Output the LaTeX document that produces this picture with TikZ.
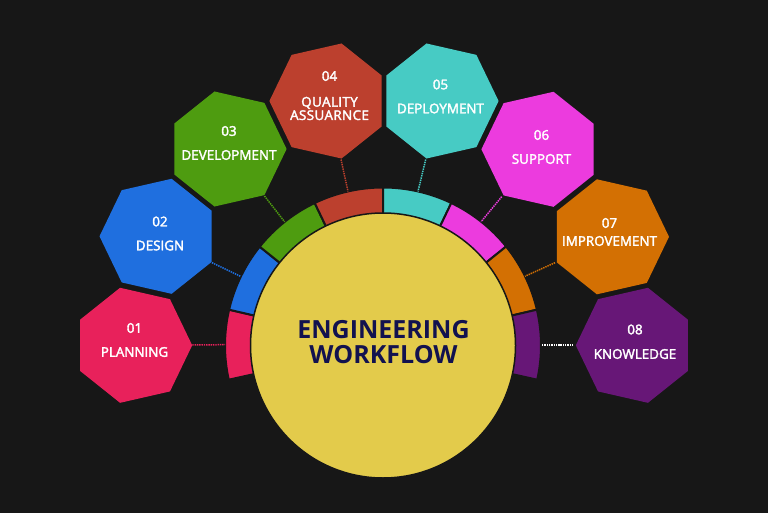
\documentclass[tikz,border=0pt]{standalone}
\usepackage{fontspec}
\setmainfont{Open Sans}
\newfontfamily\labfont[FakeBold=2.5]{Open Sans}
\usetikzlibrary{shapes.geometric}
\definecolor{bgdark}{HTML}{171717}
\definecolor{cpink}{HTML}{E8215B}
\definecolor{cblue}{HTML}{1F6FDF}
\definecolor{cgreen}{HTML}{4E9C10}
\definecolor{cred}{HTML}{BC402E}
\definecolor{cteal}{HTML}{47CBC4}
\definecolor{cmag}{HTML}{EC3BDE}
\definecolor{corange}{HTML}{D37003}
\definecolor{cpurple}{HTML}{671777}
\definecolor{cyellow}{HTML}{E3CB4B}
\definecolor{cnavy}{HTML}{12124F}
\tikzset{
  hepta/.style={regular polygon,regular polygon sides=7,minimum size=118pt,inner sep=0pt,outer sep=0pt,fill=#1,draw=none},
  hr/.style={hepta=#1,shape border rotate=-90},
  hl/.style={hepta=#1,shape border rotate=90},
  lab/.style={text=white,font=\labfont\fontsize{13.4}{13.4}\selectfont,align=center,inner sep=0pt},
  seg/.style={fill=#1,draw=bgdark,line width=2pt},
  link/.style={line width=1.5pt,dash pattern=on 1.4pt off 0.9pt,#1},
}
\newcommand{\segm}[3]{\draw[seg=#3] ({383+158*cos(#1)},{345.5-158*sin(#1)}) arc[start angle=-#1,end angle=-#2,radius=158] -- ({383+130*cos(#2)},{345.5-130*sin(#2)}) arc[start angle=-#2,end angle=-#1,radius=130] -- cycle;}
\begin{document}
\begin{tikzpicture}[x=1pt,y=-1pt]
\useasboundingbox[fill=bgdark] (0,0) rectangle (768,513);
\segm{192.5}{166.9}{cpink}
\segm{166.9}{141.3}{cblue}
\segm{141.3}{115.6}{cgreen}
\segm{115.6}{90}{cred}
\segm{90}{64.4}{cteal}
\segm{64.4}{38.8}{cmag}
\segm{38.8}{13.1}{corange}
\segm{13.1}{-12.5}{cpurple}
\node[circle,fill=cyellow,draw=bgdark,line width=1.5pt,minimum size=265pt,inner sep=0pt] (hub) at (383,345.5) {};
\node[align=center,text=cnavy,inner sep=0pt,font=\fontsize{25}{25}\selectfont\bfseries] (title) at (383.5,342.2) {ENGINEERING\\WORKFLOW};
\node[hr=cpink] (n1) at (133.2,345.3) {};
\node[hl=cblue] (n2) at (158.5,236.3) {};
\node[hr=cgreen] (n3) at (227.6,149) {};
\node[hl=cred] (n4) at (328.4,101) {};
\node[hr=cteal] (n5) at (439.6,101) {};
\node[hl=cmag] (n6) at (540.4,149.3) {};
\node[hr=corange] (n7) at (610,236.8) {};
\node[hl=cpurple] (n8) at (634.8,345.3) {};
\node[lab] (t1) at (134.5,328) {01};
\node[lab] (l1) at (134.5,352) {PLANNING};
\node[lab] (t2) at (160,221.5) {02};
\node[lab] (l2) at (160,245.5) {DESIGN};
\node[lab] (t3) at (229,131) {03};
\node[lab] (l3) at (229,155) {DEVELOPMENT};
\node[lab] (t4) at (329.5,76) {04};
\node[lab,font=\labfont\fontsize{13.4}{13.4}\selectfont\addfontfeature{LetterSpace=3}] (l4) at (329.5,108.5) {QUALITY\\ASSUARNCE};
\node[lab] (t5) at (440.5,84.5) {05};
\node[lab] (l5) at (440.5,108.5) {DEPLOYMENT};
\node[lab] (t6) at (541.5,135) {06};
\node[lab] (l6) at (541.5,159) {SUPPORT};
\node[lab] (t7) at (609.5,223) {07};
\node[lab] (l7) at (609.5,241) {IMPROVEMENT};
\node[lab] (t8) at (635,329.5) {08};
\node[lab] (l8) at (635,354) {KNOWLEDGE};
\coordinate (e1) at ({383+158*cos(179.7)},{345.5-158*sin(179.7)});
\coordinate (e2) at ({383+158*cos(154.1)},{345.5-158*sin(154.1)});
\coordinate (e3) at ({383+158*cos(128.5)},{345.5-158*sin(128.5)});
\coordinate (e4) at ({383+158*cos(102.8)},{345.5-158*sin(102.8)});
\coordinate (e5) at ({383+158*cos(77.2)},{345.5-158*sin(77.2)});
\coordinate (e6) at ({383+158*cos(51.6)},{345.5-158*sin(51.6)});
\coordinate (e7) at ({383+158*cos(26)},{345.5-158*sin(26)});
\coordinate (e8) at (542,345);
\coordinate (s1) at (192.3,345);
\coordinate (s2) at (212,262.7);
\coordinate (s3) at (264.5,196);
\coordinate (s4) at (341,159.5);
\coordinate (s5) at (425.7,159.5);
\coordinate (s6) at (501.7,196.7);
\coordinate (s7) at (555,262.7);
\coordinate (s8) at (573.3,345);
\draw[link=cpink] (s1) -- (e1);
\draw[link=cblue] (s2) -- (e2);
\draw[link=cgreen] (s3) -- (e3);
\draw[link=cred] (s4) -- (e4);
\draw[link=cteal] (s5) -- (e5);
\draw[link=cmag] (s6) -- (e6);
\draw[link=corange] (s7) -- (e7);
\draw[link=white] (s8) -- (e8);
\end{tikzpicture}
\end{document}
